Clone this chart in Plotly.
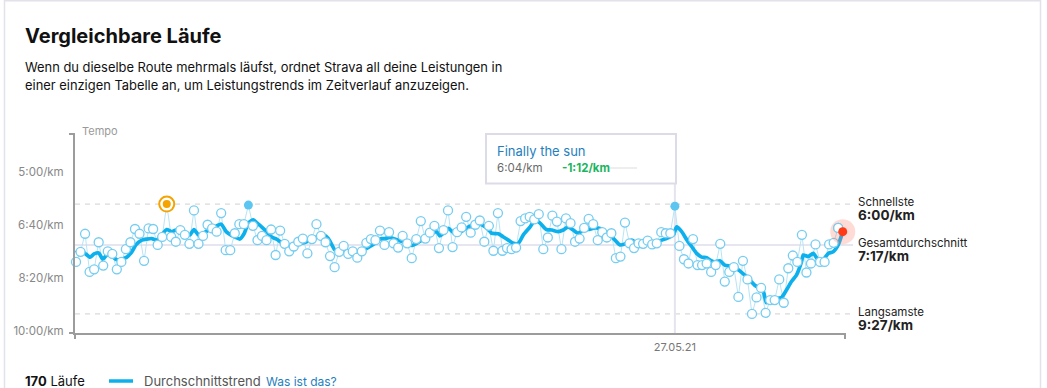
import plotly.graph_objects as go

# ---------------- data ----------------
run_index = list(range(170))
pace_s = [
    469, 450, 416, 488, 483, 432, 476, 449, 454, 483,
    469, 445, 432, 407, 416, 467, 406, 407, 437, 422,
    360, 422, 431, 409, 418, 435, 372, 435, 420, 399,
    406, 412, 377, 447, 447, 415, 398, 398, 362, 401,
    428, 420, 428, 408, 456, 410, 435, 449, 440, 431,
    425, 453, 426, 398, 420, 432, 458, 479, 450, 439,
    454, 449, 461, 449, 433, 426, 428, 410, 437, 413,
    434, 442, 420, 434, 462, 426, 392, 425, 414, 401,
    443, 409, 372, 441, 413, 404, 384, 414, 399, 391,
    431, 401, 448, 377, 448, 443, 445, 442, 392, 387,
    384, 389, 379, 445, 423, 382, 393, 445, 387, 396,
    431, 425, 405, 388, 398, 428, 413, 423, 415, 462,
    459, 395, 434, 443, 434, 435, 429, 436, 434, 413,
    415, 415, 364, 439, 464, 472, 426, 475, 475, 472,
    488, 475, 435, 506, 488, 479, 535, 467, 502, 567,
    536, 518, 565, 541, 541, 502, 546, 481, 457, 469,
    418, 489, 472, 436, 469, 469, 436, 433, 405, 412,
]

trend_index = [
    0, 1.0, 2.0, 3.1, 4.0, 5.0, 5.9, 6.8, 7.9, 9.0, 10.1, 11.2, 12.3, 13.2, 14.5,
    15.6, 16.7, 17.8, 18.9, 20, 21.1, 22, 23.1, 24, 25.1, 26, 27, 28.1, 29.2,
    30.4, 32, 33.1, 34.1, 35, 36.1, 37.1, 38, 39.1, 39.8, 40.9, 42, 43.1, 44.2,
    46.1, 48.3, 49.7, 50.8, 51.9, 53.1, 54.5, 55.6, 56.4, 57.1, 58.2, 59.3,
    60.8, 61.9, 63.3, 64.8, 65.9, 67, 68.1, 69.2, 70.3, 71.4, 72.9, 74, 75.1,
    76.2, 77.3, 78.4, 79.5, 80.2, 81, 82.1, 83.2, 84.3, 85.4, 86.5, 88.7, 89.8,
    90.9, 91.6, 93.1, 94.2, 95.3, 96.4, 97.5, 98.6, 100.1, 101.2, 102.3, 103.7,
    104.9, 106.3, 107.4, 108.5, 109.6, 110.7, 111.8, 112.9, 114.4, 115.5, 116.6,
    117.7, 118.8, 119.9, 121.4, 122.5, 123.6, 125, 126.5, 128, 129.1, 130.6,
    131.7, 132.4, 133.5, 134.6, 135.7, 136.8, 137.9, 139, 139.7, 140.8, 141.9,
    143, 144.1, 145.2, 146.3, 147.4, 148.5, 149.6, 150.7, 151.5, 152.2, 153.3,
    154.4, 155.5, 156.6, 157.7, 158.8, 159.9, 160.3, 161.4, 162.5, 163.6, 164.7,
    165.8, 166.9, 168, 169,
]
trend_s = [
    452, 447, 453, 460, 454, 452, 464, 456, 458, 465, 464, 460, 450, 437, 428,
    426, 425, 428, 418, 408, 412, 409, 412, 418, 418, 408, 418, 415, 409,
    404, 398, 412, 418, 422, 426, 415, 396, 390, 395, 403, 412, 422, 426,
    437, 437, 434, 431, 425, 422, 418, 425, 437, 447, 448, 447,
    450, 450, 447, 440, 434, 426, 425, 423, 426, 429, 434, 438, 434,
    428, 423, 415, 412, 420, 415, 406, 414, 415, 409, 403, 396, 401,
    408, 415, 416, 422, 428, 434, 434, 418, 403, 390, 396, 408,
    409, 412, 409, 403, 409, 415, 409, 408, 405, 406, 412,
    418, 428, 437, 434, 428, 434, 434, 432, 431, 428, 423,
    418, 403, 412, 427, 440, 453, 460, 461, 465, 469, 467,
    475, 477, 479, 486, 494, 503, 513, 519, 525, 546, 538,
    538, 536, 522, 506, 494, 469, 456, 459, 453, 465, 465,
    453, 450, 437, 412,
]

AVERAGE_S = 437
HIGHLIGHT_IDX = [38, 132]
SELECTED_IDX = 132
LATEST_IDX = 169
RUN_COUNT = 170
SELECTED_NAME = "Finally the sun"
SELECTED_PACE = "6:04/km"
SELECTED_DIFF = "-1:12/km"

y_tick_vals = [300, 400, 500, 600]
y_tick_text = ["5:00/km", "6:40/km", "8:20/km", "10:00/km"]
x_tick_vals = [SELECTED_IDX]
x_tick_text = ["27.05.21"]

summary_labels = ["Schnellste", "Gesamtdurchschnitt", "Langsamste"]
summary_values = ["6:00/km", "7:17/km", "9:27/km"]

# ---------------- derived ----------------
fastest_idx = pace_s.index(min(pace_s))
summary_pace = [min(pace_s), AVERAGE_S, max(pace_s)]

W, H = 1047, 388
L, R, T, B = 75, 845, 134, 333
FONT = "Inter, 'Noto Sans', sans-serif"
TREND = "#0cb0ec"
CIRCLE = "#76cdf1"
THIN = "#b8e4f6"


def px(x):
    return (x - L) / (R - L)


def py(y):
    return (B - y) / (B - T)


fig = go.Figure()

fig.add_trace(go.Scatter(x=run_index, y=pace_s, mode="lines",
                         line=dict(color=THIN, width=1), hoverinfo="skip"))
fig.add_trace(go.Scatter(x=trend_index, y=trend_s, mode="lines",
                         line=dict(color=TREND, width=3.7, shape="spline", smoothing=0.6),
                         hoverinfo="skip"))
special = set(HIGHLIGHT_IDX + [fastest_idx, LATEST_IDX])
ox = [i for i in run_index if i not in special]
oy = [pace_s[i] for i in ox]
fig.add_trace(go.Scatter(x=ox, y=oy, mode="markers", cliponaxis=False,
                         marker=dict(size=9, color="white", line=dict(color=CIRCLE, width=1.3)),
                         hoverinfo="skip"))
fig.add_trace(go.Scatter(x=HIGHLIGHT_IDX, y=[pace_s[i] for i in HIGHLIGHT_IDX], mode="markers",
                         cliponaxis=False, marker=dict(size=9, color="#5cc6f1"), hoverinfo="skip"))
fig.add_trace(go.Scatter(x=[fastest_idx], y=[pace_s[fastest_idx]], mode="markers", cliponaxis=False,
                         marker=dict(size=15, color="white", line=dict(color="#f5a300", width=2)),
                         hoverinfo="skip"))
fig.add_trace(go.Scatter(x=[fastest_idx], y=[pace_s[fastest_idx]], mode="markers", cliponaxis=False,
                         marker=dict(size=8, color="#f5a300"), hoverinfo="skip"))
fig.add_trace(go.Scatter(x=[LATEST_IDX], y=[pace_s[LATEST_IDX]], mode="markers", cliponaxis=False,
                         marker=dict(size=25, color="rgba(255,110,90,0.25)"), hoverinfo="skip"))
fig.add_trace(go.Scatter(x=[LATEST_IDX - 1], y=[pace_s[LATEST_IDX - 1]], mode="markers", cliponaxis=False,
                         marker=dict(size=9, color="white", line=dict(color=CIRCLE, width=1.3)),
                         hoverinfo="skip"))
fig.add_trace(go.Scatter(x=[LATEST_IDX], y=[pace_s[LATEST_IDX]], mode="markers", cliponaxis=False,
                         marker=dict(size=9, color="#ff3a14"), hoverinfo="skip"))

shapes = []
BORDER = "#e2e2ea"
shapes.append(dict(type="line", xref="paper", yref="paper", x0=px(4.5), x1=px(4.5), y0=py(0), y1=py(H),
                   line=dict(color=BORDER, width=1.5)))
shapes.append(dict(type="line", xref="paper", yref="paper", x0=px(1040.5), x1=px(1040.5), y0=py(0), y1=py(H),
                   line=dict(color=BORDER, width=1.5)))
shapes.append(dict(type="line", xref="paper", yref="paper", x0=px(4.5), x1=px(1040.5), y0=py(0.8), y1=py(0.8),
                   line=dict(color=BORDER, width=1.5)))
for i, p in enumerate(summary_pace):
    if i == 1:
        ln = dict(color="#e7e5ef", width=2)
    else:
        ln = dict(color="#dadada", width=1.3, dash="5px,5px")
    shapes.append(dict(type="line", xref="paper", yref="y", x0=0, x1=px(853), y0=p, y1=p, line=ln, layer="below"))
shapes.append(dict(type="line", xref="x", yref="paper", x0=SELECTED_IDX, x1=SELECTED_IDX, y0=0, y1=py(184),
                   line=dict(color="#e5e3ee", width=2), layer="below"))
shapes.append(dict(type="rect", xref="paper", yref="paper", x0=px(486), x1=px(676), y0=py(183.5), y1=py(134),
                   line=dict(color="#dcdbe8", width=2), fillcolor="white"))
shapes.append(dict(type="line", xref="paper", yref="paper", x0=px(610), x1=px(637), y0=py(168), y1=py(168),
                   line=dict(color="#dddddd", width=1)))
AX = "#9c9c9c"
shapes.append(dict(type="line", xref="paper", yref="paper", x0=px(69), x1=px(75), y0=py(134), y1=py(134),
                   line=dict(color=AX, width=2)))
shapes.append(dict(type="line", xref="paper", yref="paper", x0=px(69), x1=px(75), y0=py(333), y1=py(333),
                   line=dict(color=AX, width=2)))
shapes.append(dict(type="line", xref="paper", yref="paper", x0=px(75), x1=px(75), y0=py(333), y1=py(339),
                   line=dict(color=AX, width=2)))
shapes.append(dict(type="line", xref="paper", yref="paper", x0=px(845), x1=px(845), y0=py(333), y1=py(339),
                   line=dict(color=AX, width=2)))
shapes.append(dict(type="line", xref="paper", yref="paper", x0=px(109), x1=px(133), y0=py(381), y1=py(381),
                   line=dict(color=TREND, width=3.5)))

ann = []


def text(x, y, s, size=13, color="#222", anchor="left", yanchor="middle"):
    ann.append(dict(xref="paper", yref="paper", x=px(x), y=py(y), text=s, showarrow=False,
                    xanchor=anchor, yanchor=yanchor, borderpad=0, align="left",
                    font=dict(family=FONT, size=size, color=color)))


text(24, 36, "<b>Vergleichbare Läufe</b>", size=20, color="#111")
text(24, 67.5, "Wenn du dieselbe Route mehrmals läufst, ordnet Strava all deine Leistungen in", size=12.9, color="#111")
text(24, 85.5, "einer einzigen Tabelle an, um Leistungstrends im Zeitverlauf anzuzeigen.", size=12.9, color="#111")
text(81, 131, "Tempo", size=11, color="#9a9a9a")
text(496, 151, SELECTED_NAME, size=13, color="#1f80c0")
text(496, 168, SELECTED_PACE, size=11.5, color="#6a6a6a")
text(561, 168, "<b>" + SELECTED_DIFF + "</b>", size=11.5, color="#1bb560")
for lab, val, y0 in zip(summary_labels, summary_values, [209.0, 249.7, 319]):
    text(857, y0,
         "<span style='font-size:11.5px'>" + lab + "</span><br>"
         "<span style='font-size:13.5px'><b>" + val + "</b></span>",
         size=11, color="#222")
text(24, 381, "<b>%d</b> Läufe" % RUN_COUNT, size=13, color="#111")
text(143, 381, "Durchschnittstrend", size=13, color="#555")
text(265, 381, "Was ist das?", size=12, color="#1f80c0")

fig.update_layout(
    width=W, height=H,
    margin=dict(l=L, r=W - R, t=T, b=H - B, pad=0),
    paper_bgcolor="white", plot_bgcolor="white",
    showlegend=False,
    shapes=shapes, annotations=ann,
    font=dict(family=FONT),
    xaxis=dict(range=[-0.22, 169.5], showgrid=False, zeroline=False, showline=True,
               linecolor=AX, linewidth=2, tickvals=x_tick_vals, ticktext=x_tick_text,
               ticks="", ticklabelstandoff=3,
               tickfont=dict(family=FONT, size=11, color="#777")),
    yaxis=dict(range=[603, 228], showgrid=False, zeroline=False, showline=True,
               linecolor=AX, linewidth=2, tickvals=y_tick_vals, ticktext=y_tick_text,
               ticks="", ticklabelstandoff=7,
               tickfont=dict(family=FONT, size=11.5, color="#888")),
)

fig.write_html("out.html", config={"displayModeBar": False},
               post_script="document.body.style.margin='0px';document.body.style.overflow='hidden';")
